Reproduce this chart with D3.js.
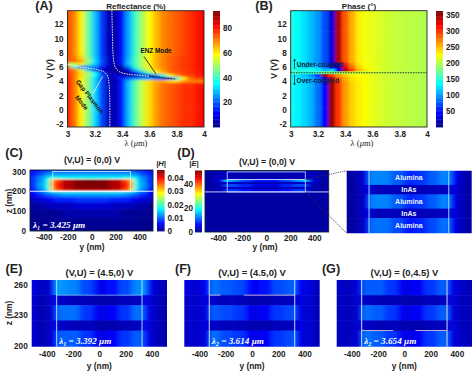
<!DOCTYPE html>
<html>
<head>
<meta charset="utf-8">
<script src="https://cdn.jsdelivr.net/npm/d3@7"></script>
<style>
  html, body { margin: 0; padding: 0; background: #fff; }
  text { font-family: "Liberation Sans", Arial, sans-serif; font-weight: bold; fill: #222; }
  .tick text { font-size: 8.2px; }
  .math { font-family: "Liberation Serif", serif; font-style: italic; fill: #fff; font-size: 9.2px; }
</style>
</head>
<body>
<div id="chart"></div>
<script>
// --- data ---
const lambdaVals = [3, 3.05, 3.1, 3.15, 3.2, 3.25, 3.3, 3.35, 3.4, 3.45, 3.5, 3.55, 3.6, 3.65, 3.7, 3.75, 3.8, 3.85, 3.9, 3.95, 4]
const voltVals = [14, 8, 7.2, 6.8, 6.4, 6, 5.6, 5.2, 4.8, 4.4, 4, 3.6, 3, -2.5]

const reflectance = [
  [76,70,60,45,30,17,5,4,13,28,41,51,59,65,70,72,74,76,78,80,82],
  [76,70,60,45,30,17,5,4,13,28,41,51,59,65,70,72,74,76,78,80,82],
  [75,71,63,47,31,18,6,4,14,29,42,52,60,66,70,73,75,77,78,80,82],
  [74,72,68,50,33,19,7,4,14,30,42,52,60,66,70,73,75,77,78,80,82],
  [45,55,58,45,30,18,7,3,14,30,42,52,60,66,70,73,75,77,78,80,82],
  [75,40,18,24,25,15,6,2,6,24,40,51,60,66,70,73,75,77,78,80,82],
  [78,70,55,30,8,6,5,2,3,10,30,46,56,63,69,73,75,77,78,80,82],
  [78,72,62,50,35,15,4,3,2,3,12,28,44,56,66,72,75,77,78,80,82],
  [80,72,62,50,36,20,6,8,8,4,3,3,8,22,40,56,68,74,77,80,82],
  [82,72,60,48,32,18,5,6,15,20,24,26,26,22,14,18,38,60,72,76,78],
  [82,72,60,48,32,18,5,5,14,30,44,54,62,66,66,62,62,68,70,70,70],
  [82,72,60,48,32,18,5,5,14,30,44,54,62,68,72,74,76,78,78,80,82],
  [82,72,60,48,32,18,5,5,14,30,44,54,62,68,72,74,76,78,78,80,82],
  [82,72,60,48,32,18,5,5,14,30,44,54,62,68,72,74,76,78,78,80,82]
]

const phase = [
  [145,138,125,112,98,72,30,345,285,255,232,222,218,213,210,207,205,203,202,200,198],
  [145,138,125,112,98,72,30,345,285,255,232,222,218,213,210,207,205,203,202,200,198],
  [145,138,125,112,98,72,30,345,285,255,232,222,218,213,210,207,205,203,202,200,198],
  [145,138,125,112,98,72,30,345,288,256,232,222,218,213,210,207,205,203,202,200,198],
  [145,138,124,114,100,76,40,30,310,265,236,224,218,213,210,207,205,203,202,200,198],
  [145,137,118,125,112,85,50,28,325,278,242,226,219,214,210,207,205,203,202,200,198],
  [152,148,145,145,130,110,120,40,340,295,252,232,222,215,211,207,205,203,202,200,198],
  [165,155,148,150,165,180,178,190,200,205,208,208,206,204,203,202,201,200,200,199,198],
  [135,128,115,100,68,350,300,265,245,232,226,222,218,213,210,207,205,203,202,200,198],
  [140,132,120,105,80,30,345,285,255,238,230,224,218,213,210,207,205,203,202,200,198],
  [140,132,122,108,85,45,350,295,260,240,230,224,218,213,210,207,205,203,202,200,198],
  [140,132,122,108,85,45,352,298,262,242,232,224,218,213,210,207,205,203,202,200,198],
  [140,132,122,108,85,45,352,298,262,242,232,224,218,213,210,207,205,203,202,200,198],
  [140,132,122,108,85,45,352,298,262,242,232,224,218,213,210,207,205,203,202,200,198]
]

const gapMode = [[3,6.4],[3.05,6.2],[3.1,6.0],[3.17,5.8],[3.23,5.6],[3.27,5.3],[3.295,4.7],[3.305,3.5],[3.31,1],[3.31,-2.4]]
const enzMode = [[3.325,13.9],[3.33,10],[3.335,7.5],[3.35,6],[3.38,5.35],[3.43,5.05],[3.5,4.9],[3.6,4.7],[3.7,4.5],[3.8,4.3]]

const magY = [-500,-420,-370,-335,-300,-200,-100,0,100,200,300,335,370,420,500]
const magZ = [305,285,268,255,240,225,210,203,196,180,160,130,90,40,0]
const magH = [
  [.006,.007,.008,.009,.009,.009,.009,.009,.009,.009,.009,.009,.008,.007,.006],
  [.007,.009,.012,.013,.013,.013,.013,.013,.013,.013,.013,.013,.012,.009,.007],
  [.008,.012,.016,.018,.018,.017,.017,.017,.017,.017,.018,.018,.016,.012,.008],
  [.008,.012,.017,.030,.037,.043,.045,.046,.045,.043,.037,.030,.017,.012,.008],
  [.008,.013,.018,.032,.039,.044,.046,.046,.046,.044,.039,.032,.018,.013,.008],
  [.008,.013,.018,.032,.039,.044,.046,.046,.046,.044,.039,.032,.018,.013,.008],
  [.007,.012,.017,.030,.038,.043,.045,.045,.045,.043,.038,.030,.017,.012,.007],
  [.007,.011,.015,.026,.034,.038,.040,.040,.040,.038,.034,.026,.015,.011,.007],
  [.006,.010,.013,.015,.016,.017,.017,.017,.017,.017,.016,.015,.013,.010,.006],
  [.005,.007,.009,.010,.011,.012,.012,.012,.012,.012,.011,.010,.009,.007,.005],
  [.003,.004,.005,.006,.007,.007,.008,.008,.008,.007,.007,.006,.005,.004,.003],
  [.001,.002,.002,.003,.003,.003,.004,.004,.004,.003,.003,.003,.002,.002,.001],
  [.001,.001,.001,.001,.001,.002,.002,.002,.002,.002,.001,.001,.001,.001,.001],
  [.0005,.0005,.001,.001,.001,.001,.001,.001,.001,.001,.001,.001,.001,.0005,.0005],
  [.0005,.0005,.0005,.0005,.0005,.0005,.0005,.0005,.0005,.0005,.0005,.0005,.0005,.0005,.0005]
]

const magEyEdges = [-515,-430,-345,-310,-230,-120,120,230,310,345,430,515]
const magEzEdges = [307,262,250,240,225,215,200,0]
const magE = [
  [2,3,3.5,2.5,2.5,2.5,2.5,2.5,3.5,3,2],
  [2,5,18,14,10,7,10,14,18,5,2],
  [1.8,3,6,3,3,2.5,3,3,6,3,1.8],
  [1.8,3,10,10,8,5,8,10,10,3,1.8],
  [1.8,2.5,5,3,3,2.5,3,3,5,2.5,1.8],
  [1.8,2.5,8,9,7,5,7,9,8,2.5,1.8],
  [1.8,1.8,1.8,1.8,1.8,1.8,1.8,1.8,1.8,1.8,1.8]
]

// layers of the stack, shared by the zoomed panels
const stackEdges = [265, 250, 240, 225, 215, 199]
const stackY = [-515,-470,-420,-380,-350,-335,-320,-250,-150,-50,0,50,150,250,320,335,350,380,420,470,515]

const insetE = [
  [1.5,2,3,5,8,12,13,13,11,9,8,9,11,13,13,12,8,5,3,2,1.5],
  [1.5,2,3,4,5,6,3,3,3,3,3,3,3,3,3,6,5,4,3,2,1.5],
  [1.5,2,3,4,6,10,13,13,11,9,8,9,11,13,13,10,6,4,3,2,1.5],
  [1.5,2,3,4,5,6,3,3,3,3,3,3,3,3,3,6,5,4,3,2,1.5],
  [1.5,2,3,4,6,9,12,12,10,8,7,8,10,12,12,9,6,4,3,2,1.5]
]
const panelE = [
  [5,3,3.5,5,9,15,14,13,10,7,5,7,10,13,14,15,9,5,3.5,3,2],
  [4,2.5,3,4,5,6,3.5,3,3,2.5,2,2.5,3,3,3.5,6,5,4,3,2.5,2],
  [4,2.5,3,4,6,9,12,12,9,6,5,6,9,12,12,9,6,4,3,2.5,2],
  [4,2.5,3,4,5,6,3.5,3,3,2.5,2,2.5,3,3,3.5,6,5,4,3,2.5,2],
  [4,2.5,3,4,6,8,11,11,9,6,5,6,9,11,11,8,6,4,3,2.5,2]
]
const panelF = [
  [5,4,4.5,5.5,6,7,12,11,10,7,6,7,10,11,12,7,6,5.5,4.5,3,2],
  [4,3.5,4,4.5,5,5,3.5,3,3,2.5,2.5,2.5,3,3,3.5,5,5,4.5,4,3,2],
  [4,3.5,4,4.5,5,6,11,10,9,6,5,6,9,10,11,6,5,4.5,4,3,2],
  [4,3.5,4,4.5,5,5,3.5,3,3,2.5,2.5,2.5,3,3,3.5,5,5,4.5,4,3,2],
  [4,3.5,4,4.5,5,6,12,10,9,6,5,6,9,10,12,6,5,4.5,4,3,2]
]
const panelG = [
  [4,3,3.5,4.5,5,6,11,11,9,6,5,6,9,11,11,6,5,4.5,3.5,3,2],
  [3.5,3,3,4,4.5,5,3.5,3,3,2.5,2.5,2.5,3,3,3.5,5,4.5,4,3,3,2],
  [3.5,3,3,4,4.5,5.5,12,11,9,6,5,6,9,11,12,5.5,4.5,4,3,3,2],
  [3.5,3,3,4,4.5,5,3.5,3,3,2.5,2.5,2.5,3,3,3.5,5,4.5,4,3,3,2],
  [3.5,3,3.5,4,5,6,12,11,9,6,5,6,9,11,12,6,5,4,3.5,3,2]
]

const lambdaTicks = [3, 3.2, 3.4, 3.6, 3.8, 4]
const voltTicks = [-2, 0, 2, 4, 6, 8, 10, 12]
const yTicks = [-400, -200, 0, 200, 400]
const zTicks = [0, 100, 200, 300]
const stackTicks = [200, 230, 260]
const reflTicks = [20, 40, 60, 80]
const phaseTicks = [50, 100, 150, 200, 250, 300, 350]
const hTicks = [0, .01, .02, .03, .04]
const eTicks = [0, 20, 40]

const jet = ["#00007f","#0000ff","#007fff","#00ffff","#7fff7f","#ffff00","#ff7f00","#ff0000","#7f0000"]
const jetMap = d3.piecewise(d3.interpolateRgb, jet)

const svg = d3.select("#chart").append("svg")
  .attr("width", 474).attr("height", 373)
  .style("display", "block")

const defs = svg.append("defs")
;["2.2 0.8", "1.4 0.7", "2.6 0.3"].forEach((s, i) => {
  defs.append("filter").attr("id", "soft" + i)
    .attr("x", "-20%").attr("y", "-30%").attr("width", "140%").attr("height", "160%")
    .append("feGaussianBlur").attr("stdDeviation", s)
})

let clipId = 0

// cell borders half way between the grid values
const midEdges = (c) => {
  const e = [c[0]]
  for (let i = 1; i < c.length; i++) e.push((c[i - 1] + c[i]) / 2)
  e.push(c[c.length - 1])
  return e
}

function heat(x, y, xEdges, yEdges, values, color, soft) {
  const id = "clip" + (clipId++)
  defs.append("clipPath").attr("id", id).append("rect")
    .attr("x", x.range()[0]).attr("y", y.range()[1])
    .attr("width", x.range()[1] - x.range()[0])
    .attr("height", y.range()[0] - y.range()[1])

  const xs = xEdges.map(x), ys = yEdges.map(y)
  // outer cells run past the frame so that the blur does not fade at the border
  xs[0] -= 8; xs[xs.length - 1] += 8
  ys[0] -= 8; ys[ys.length - 1] += 8

  const cells = []
  values.forEach((row, r) => row.forEach((v, c) => cells.push({r, c, v})))

  const g = svg.append("g").attr("clip-path", "url(#" + id + ")")
    .append("g").attr("filter", "url(#soft" + soft + ")")
  g.selectAll("rect").data(cells).join("rect")
    .attr("x", d => xs[d.c])
    .attr("y", d => ys[d.r])
    .attr("width", d => xs[d.c + 1] - xs[d.c] + .5)
    .attr("height", d => ys[d.r + 1] - ys[d.r] + .5)
    .attr("fill", d => color(d.v))
}

function frame(x, y, xTicks, yTicksList, xFmt, pad) {
  const b = svg.append("g").attr("transform", "translate(0," + y.range()[0] + ")")
    .call(d3.axisBottom(x).tickValues(xTicks).tickSize(0).tickPadding(pad).tickFormat(xFmt))
  b.select(".domain").remove()
  b.selectAll("text").style("font-family", "Liberation Sans").attr("fill", "#222")
  if (yTicksList) {
    const l = svg.append("g").attr("transform", "translate(" + x.range()[0] + ",0)")
      .call(d3.axisLeft(y).tickValues(yTicksList).tickSize(0).tickPadding(4).tickFormat(d => d))
    l.select(".domain").remove()
    l.selectAll("text").style("font-family", "Liberation Sans").attr("fill", "#222")
  }
}

function box(x, y, stroke) {
  svg.append("rect")
    .attr("x", x.range()[0]).attr("y", y.range()[1])
    .attr("width", x.range()[1] - x.range()[0])
    .attr("height", y.range()[0] - y.range()[1])
    .attr("fill", "none").attr("stroke", stroke).attr("stroke-width", .9)
}

function colorbar(x0, x1, y, color, ticks, fmt, labelLeft) {
  const steps = d3.range(0, 90)
  const [d0, d1] = y.domain()
  const h = (y.range()[0] - y.range()[1]) / steps.length
  svg.append("g").selectAll("rect").data(steps).join("rect")
    .attr("x", x0).attr("width", x1 - x0)
    .attr("y", i => y(d0 + (d1 - d0) * (i + 1) / steps.length))
    .attr("height", h + .4)
    .attr("fill", i => color(d0 + (d1 - d0) * (i + .5) / steps.length))
  const ax = labelLeft ? d3.axisLeft(y) : d3.axisRight(y)
  const g = svg.append("g").attr("transform", "translate(" + (labelLeft ? x0 : x1) + ",0)")
    .call(ax.tickValues(ticks).tickSize(0).tickPadding(labelLeft ? 2 : 3).tickFormat(fmt))
  g.select(".domain").remove()
  g.selectAll("text").style("font-family", "Liberation Sans").attr("fill", "#222")
}

function label(px, py, txt, size, rot) {
  const t = svg.append("text").attr("text-anchor", "middle").attr("font-size", size).text(txt)
  if (rot) t.attr("transform", "translate(" + px + "," + py + ") rotate(" + rot + ")")
  else t.attr("x", px).attr("y", py)
  return t
}

function lambdaLabel(px, py) {
  const t = svg.append("text").attr("x", px).attr("y", py).attr("text-anchor", "middle")
    .style("font-family", "Liberation Serif").style("font-weight", "normal").attr("font-size", 8.5)
  t.append("tspan").text("λ (")
  t.append("tspan").style("font-style", "italic").text("μ")
  t.append("tspan").text("m)")
}

function mathLabel(px, py, sub, val) {
  const t = svg.append("text").attr("class", "math").attr("x", px).attr("y", py)
  t.append("tspan").text("λ")
  t.append("tspan").attr("dy", 2).attr("font-size", 6).text(sub)
  t.append("tspan").attr("dy", -2).text(" = " + val + " μm")
}

// --- (A) reflectance ---
const xA = d3.scaleLinear().domain([3, 4]).range([67.5, 204])
const yA = d3.scaleLinear().domain([-2.4, 13.9]).range([127, 10.7])
const colorA = d3.scaleSequential(jetMap).domain([0, 94])
heat(xA, yA, midEdges(lambdaVals), midEdges(voltVals).map(v => Math.min(v, 13.9)), reflectance, colorA, 0)
box(xA, yA, "#222")
frame(xA, yA, lambdaTicks, voltTicks, d => d, 4)
colorbar(213, 220, d3.scaleLinear().domain([0, 94]).range([127, 11]), colorA, reflTicks, d => d)

const line = (x, y) => d3.line().x(d => x(d[0])).y(d => y(d[1])).curve(d3.curveCatmullRom)
svg.append("path").attr("d", line(xA, yA)(gapMode))
  .attr("fill", "none").attr("stroke", "#fff").attr("stroke-width", .9).attr("stroke-dasharray", "1.6 1")
svg.append("path").attr("d", line(xA, yA)(enzMode.slice(0, 8)))
  .attr("fill", "none").attr("stroke", "#fff").attr("stroke-width", .9).attr("stroke-dasharray", "1.6 1")
svg.append("path").attr("d", line(xA, yA)(enzMode.slice(7)))
  .attr("fill", "none").attr("stroke", "#111").attr("stroke-width", .9).attr("stroke-dasharray", "2 1")

svg.append("line").attr("x1", 144).attr("y1", 56.5).attr("x2", 156).attr("y2", 74)
  .attr("stroke", "#111").attr("stroke-width", .8)
svg.append("line").attr("x1", 93).attr("y1", 94).attr("x2", 102.5).attr("y2", 76.5)
  .attr("stroke", "#eef").attr("stroke-width", .8)
label(156, 53, "ENZ Mode", 6.4).style("fill", "#111")
label(88, 98, "Gap Plasmon", 6.4, 52).style("fill", "#111")
label(80, 104, "Mode", 6.4, 52).style("fill", "#111")

label(136, 9, "Reflectance (%)", 8)
label(44, 10, "(A)", 12.6)
lambdaLabel(136, 146)
label(53, 69, "V (V)", 8.6, -90)

// --- (B) phase ---
const xB = d3.scaleLinear().domain([3, 4]).range([290.7, 427])
const yB = yA
const colorB = d3.scaleSequential(jetMap).domain([0, 362])
heat(xB, yB, midEdges(lambdaVals), midEdges(voltVals).map(v => Math.min(v, 13.9)), phase, colorB, 1)
box(xB, yB, "#222")
frame(xB, yB, lambdaTicks, voltTicks, d => d, 4)
colorbar(436, 443, d3.scaleLinear().domain([0, 362]).range([127, 11]), colorB, phaseTicks, d => d)

svg.append("line").attr("x1", xB(3)).attr("x2", xB(4)).attr("y1", yB(5.2)).attr("y2", yB(5.2))
  .attr("stroke", "#111").attr("stroke-width", .8).attr("stroke-dasharray", "1.6 1")
defs.append("marker").attr("id", "tip").attr("viewBox", "0 0 6 6").attr("refX", 5).attr("refY", 3)
  .attr("markerWidth", 3.5).attr("markerHeight", 3.5).attr("orient", "auto")
  .append("path").attr("d", "M0,0L6,3L0,6Z").attr("fill", "#0a2a5a")
;[[69, 59], [75, 85]].forEach(p => {
  svg.append("line").attr("x1", 294.5).attr("x2", 294.5).attr("y1", p[0]).attr("y2", p[1])
    .attr("stroke", "#0a2a5a").attr("stroke-width", .8).attr("marker-end", "url(#tip)")
})
label(0, 0, "Under-coupled", 6.6).attr("text-anchor", "start").attr("x", 296.7).attr("y", 67).style("fill", "#123")
label(0, 0, "Over-coupled", 6.6).attr("text-anchor", "start").attr("x", 296.5).attr("y", 82.5).style("fill", "#123")

label(359, 9, "Phase (°)", 8)
label(264, 10, "(B)", 12.6)
lambdaLabel(362, 146)
label(277, 69, "V (V)", 8.6, -90)

// --- (C) |H| ---
const xC = d3.scaleLinear().domain([-516, 513]).range([30, 153])
const yC = d3.scaleLinear().domain([0, 307]).range([231, 170])
const colorC = d3.scaleSequential(jetMap).domain([0, .046])
heat(xC, yC, midEdges(magY).map((v, i, a) => i === 0 ? -516 : i === a.length - 1 ? 513 : v), midEdges(magZ), magH, colorC, 0)
box(xC, yC, "#123")
frame(xC, yC, yTicks, zTicks, d => d, 3)
colorbar(157, 164.5, d3.scaleLinear().domain([0, .046]).range([231, 170]), colorC, hTicks, d => d)

svg.append("rect").attr("x", xC(-325)).attr("width", xC(325) - xC(-325))
  .attr("y", yC(300)).attr("height", yC(200) - yC(300))
  .attr("fill", "none").attr("stroke", "#dfe8ff").attr("stroke-width", .8)
svg.append("line").attr("x1", xC(-516)).attr("x2", xC(513)).attr("y1", yC(200)).attr("y2", yC(200))
  .attr("stroke", "#fff").attr("stroke-width", .9)
svg.append("line").attr("x1", xC(-325)).attr("x2", xC(325)).attr("y1", yC(262)).attr("y2", yC(262))
  .attr("stroke", "#f5f0c0").attr("stroke-width", .7)
mathLabel(33, 228, "1", "3.425")

label(92, 163, "(V,U) = (0,0) V", 8.8)
label(161, 166, "|H|", 7.6).style("font-style", "italic")
label(14, 157, "(C)", 12.6)
label(92, 250, "y (nm)", 8.4)
label(12, 201, "z (nm)", 8.4, -90)

// --- (D) |E| ---
const xD = d3.scaleLinear().domain([-510, 520]).range([205, 328.7])
const yD = d3.scaleLinear().domain([0, 307]).range([232, 170.5])
const colorD = d3.scaleSequential(jetMap).domain([0, 51])
heat(xD, yD, magEyEdges, magEzEdges, magE, colorD, 2)
box(xD, yD, "#123")
frame(xD, yD, yTicks, null, d => d, 3)
colorbar(195, 202, d3.scaleLinear().domain([0, 51]).range([232, 170.5]), colorD, eTicks, d => d, true)

svg.append("rect").attr("x", xD(-325)).attr("width", xD(325) - xD(-325))
  .attr("y", yD(300)).attr("height", yD(200) - yD(300))
  .attr("fill", "none").attr("stroke", "#cfe0ff").attr("stroke-width", .8)
svg.append("line").attr("x1", xD(-510)).attr("x2", xD(520)).attr("y1", yD(200)).attr("y2", yD(200))
  .attr("stroke", "#dbe6ff").attr("stroke-width", .9)
svg.append("line").attr("x1", xD(-325)).attr("x2", xD(325)).attr("y1", yD(262)).attr("y2", yD(262))
  .attr("stroke", "#cfe6ff").attr("stroke-width", .9)

label(267, 165, "(V,U) = (0,0) V", 8.8)
label(194, 166, "|E|", 7.6).style("font-style", "italic")
label(186, 157, "(D)", 12.6)
label(265, 250, "y (nm)", 8.4)

// inset of (D)
const xI = d3.scaleLinear().domain([-515, 520]).range([346.7, 471.7])
const yI = d3.scaleLinear().domain([199, 265]).range([233.3, 170.7])
heat(xI, yI, stackY.map((v, i) => i === 0 ? -515 : i === stackY.length - 1 ? 520 : v), stackEdges, insetE, colorD, 2)
;[-330, 330].forEach(v => {
  svg.append("line").attr("x1", xI(v)).attr("x2", xI(v)).attr("y1", yI(265)).attr("y2", yI(199))
    .attr("stroke", "#9ff0ff").attr("stroke-width", .9)
})
const layerNames = ["Alumina", "InAs", "Alumina", "InAs", "Alumina"]
layerNames.forEach((n, i) => {
  label(xI(0), (yI(stackEdges[i]) + yI(stackEdges[i + 1])) / 2 + 2.5, n, 7).style("fill", "#eaf4ff")
})
;[[xD(325), yD(262), xI(-515), yI(265)], [xD(325), yD(200), xI(-515), yI(199)]].forEach((l, i) => {
  svg.append("line").attr("x1", l[0]).attr("y1", l[1]).attr("x2", l[2]).attr("y2", l[3])
    .attr("stroke", "#334").attr("stroke-width", .8).attr("stroke-dasharray", i === 0 ? "1.2 1" : "1.5 1")
})

// --- (E) (F) (G) ---
const yStack = d3.scaleLinear().domain([199, 265]).range([346.7, 280])
const panels = [
  {x: [31.7, 167], v: panelE, title: "(V,U) = (4.5,0) V", letter: "(E)", lx: 14, sub: "1", val: "3.392"},
  {x: [184.3, 319.7], v: panelF, title: "(V,U) = (4.5,0) V", letter: "(F)", lx: 183, sub: "2", val: "3.614"},
  {x: [336.7, 472], v: panelG, title: "(V,U) = (0,4.5) V", letter: "(G)", lx: 331, sub: "2", val: "3.654"}
]
panels.forEach((p, i) => {
  const x = d3.scaleLinear().domain([-515, 515]).range(p.x)
  heat(x, yStack, stackY, stackEdges, p.v, colorD, 2)
  frame(x, yStack, yTicks, i === 0 ? stackTicks : null, d => d, 4)
  ;[-325, 325].forEach(v => {
    svg.append("line").attr("x1", x(v)).attr("x2", x(v)).attr("y1", yStack(265)).attr("y2", yStack(199))
      .attr("stroke", i === 0 ? "#a8f4ff" : "#dfeeff").attr("stroke-width", .9)
  })
  const mx = (p.x[0] + p.x[1]) / 2
  if (i === 0) {
    svg.append("line").attr("x1", x(-325)).attr("x2", x(325)).attr("y1", yStack(250)).attr("y2", yStack(250))
      .attr("stroke", "#a8f4ff").attr("stroke-width", .6)
  }
  if (i === 1) {
    svg.append("line").attr("x1", x(-325)).attr("x2", x(-240)).attr("y1", yStack(250)).attr("y2", yStack(250))
      .attr("stroke", "#f0d0c8").attr("stroke-width", .8)
    svg.append("line").attr("x1", x(-60)).attr("x2", x(325)).attr("y1", yStack(250)).attr("y2", yStack(250))
      .attr("stroke", "#f0d0c8").attr("stroke-width", .8)
  }
  if (i === 2) {
    svg.append("line").attr("x1", x(-325)).attr("x2", x(-85)).attr("y1", yStack(215)).attr("y2", yStack(215))
      .attr("stroke", "#f0d0c8").attr("stroke-width", .8)
    svg.append("line").attr("x1", x(85)).attr("x2", x(325)).attr("y1", yStack(215)).attr("y2", yStack(215))
      .attr("stroke", "#f0d0c8").attr("stroke-width", .8)
  }
  mathLabel(x(-325) + 2.5, 344, p.sub, p.val)
  label(mx, 276, p.title, 9.4)
  label(p.lx, 273, p.letter, 12.6)
  label(mx, 369, "y (nm)", 8.4)
})
label(12, 313, "z (nm)", 8.4, -90)
</script>
</body>
</html>
